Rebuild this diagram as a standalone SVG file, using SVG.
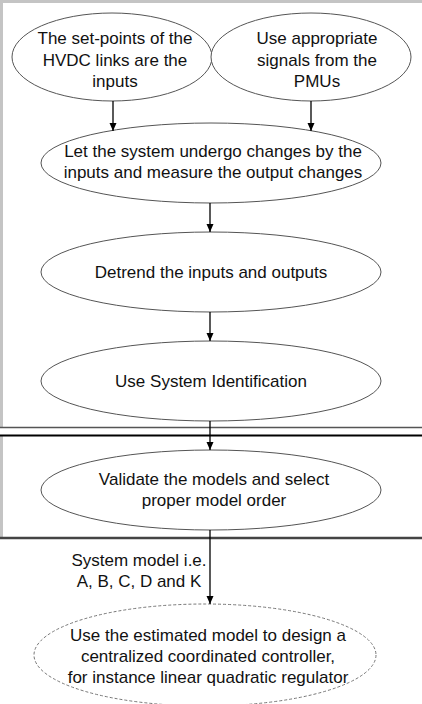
<svg xmlns="http://www.w3.org/2000/svg" width="422" height="704" viewBox="0 0 422 704">
<defs>
<style>
.n{fill:#fff;stroke:#555;stroke-width:1}
.d{fill:#fff;stroke:#777;stroke-width:1;stroke-dasharray:3 2}
.t{font-family:"Liberation Sans",Arial,sans-serif;font-size:17px;fill:#111;text-anchor:middle}
.c{stroke:#000;stroke-width:1.3;fill:none;marker-end:url(#ah)}
</style>
<marker id="ah" viewBox="0 0 8 10" refX="8" refY="5" markerWidth="8" markerHeight="10" markerUnits="userSpaceOnUse" orient="auto">
<path d="M0,1.5 L8,5 L0,8.5 Z" fill="#000"/>
</marker>
</defs>
<rect width="422" height="704" fill="#fff"/>
<g id="frame">
<rect x="0" y="0" width="422" height="3" fill="#c4c4c4"/>
<rect x="0" y="0" width="3" height="427" fill="#c4c4c4"/>
<rect x="0" y="436" width="3" height="101" fill="#c4c4c4"/>
<line x1="0" y1="427.5" x2="422" y2="427.5" stroke="#555" stroke-width="1.6"/>
<line x1="0" y1="435.5" x2="422" y2="435.5" stroke="#000" stroke-width="1.8"/>
<line x1="0" y1="538" x2="422" y2="538" stroke="#444" stroke-width="2.5"/>
</g>
<g id="n1">
<ellipse class="n" cx="112" cy="57" rx="100" ry="44"/>
<text class="t" x="115" y="44">The set-points of the</text>
<text class="t" x="115" y="66">HVDC links are the</text>
<text class="t" x="115" y="87">inputs</text>
</g>
<g id="n2">
<ellipse class="n" cx="311" cy="57" rx="100" ry="44"/>
<text class="t" x="317" y="44">Use appropriate</text>
<text class="t" x="317" y="66">signals from the</text>
<text class="t" x="317" y="87">PMUs</text>
</g>
<g id="n3">
<ellipse class="n" cx="211" cy="163" rx="170" ry="40"/>
<text class="t" x="213" y="157">Let the system undergo changes by the</text>
<text class="t" x="213" y="178">inputs and measure the output changes</text>
</g>
<g id="n4">
<ellipse class="n" cx="211" cy="272" rx="170" ry="40"/>
<text class="t" x="211" y="278">Detrend the inputs and outputs</text>
</g>
<g id="n5">
<ellipse class="n" cx="211" cy="381" rx="170" ry="40"/>
<text class="t" x="211" y="387">Use System Identification</text>
</g>
<g id="n6">
<ellipse class="n" cx="211" cy="490" rx="170" ry="40"/>
<text class="t" x="214" y="485">Validate the models and select</text>
<text class="t" x="214" y="506">proper model order</text>
</g>
<g id="n7">
<ellipse class="d" cx="205" cy="655" rx="171" ry="51"/>
<text class="t" x="208" y="641">Use the estimated model to design a</text>
<text class="t" x="208" y="662">centralized coordinated controller,</text>
<text class="t" x="208" y="683">for instance linear quadratic regulator</text>
</g>
<g id="connectors">
<line class="c" x1="113" y1="101" x2="113" y2="131"/>
<line class="c" x1="311" y1="101" x2="311" y2="131"/>
<line class="c" x1="210" y1="203" x2="210" y2="232"/>
<line class="c" x1="210" y1="312" x2="210" y2="341"/>
<line class="c" x1="210" y1="421" x2="210" y2="450"/>
<line class="c" x1="210" y1="530" x2="210" y2="604"/>
<text class="t" x="139" y="566">System model i.e.</text>
<text class="t" x="139" y="587">A, B, C, D and K</text>
</g>
</svg>
